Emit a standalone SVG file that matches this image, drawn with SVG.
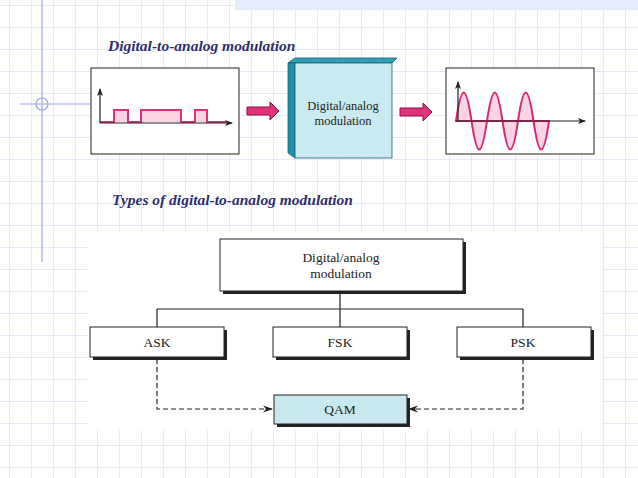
<svg xmlns="http://www.w3.org/2000/svg" width="638" height="478" viewBox="0 0 638 478">
<defs>
<pattern id="grid" width="22" height="22" patternUnits="userSpaceOnUse" x="10" y="6">
<path d="M22 0V22M0 22H22" fill="none" stroke="#cfd6f2" stroke-width="1"/>
</pattern>
<marker id="ah" markerWidth="8" markerHeight="8" refX="7" refY="4" orient="auto" markerUnits="userSpaceOnUse"><path d="M0 1L8 4L0 7L2 4Z" fill="#222"/></marker>
<marker id="da" markerWidth="10" markerHeight="8" refX="9" refY="4" orient="auto" markerUnits="userSpaceOnUse"><path d="M0 0.5L10 4L0 7.5L3 4Z" fill="#222"/></marker>
</defs>
<style>
.t{font-family:"Liberation Serif",serif;font-size:13.5px;fill:#222;text-anchor:middle}
.m{font-family:"Liberation Serif",serif;font-size:12.5px;fill:#222;text-anchor:middle}
.h{font-family:"Liberation Serif",serif;font-size:15.5px;font-weight:bold;font-style:italic;fill:#2e2e6e}
.b{fill:#fff;stroke:#222;stroke-width:1}
.sh{fill:#222}
.ln{fill:none;stroke:#222;stroke-width:1.2}
.dl{fill:none;stroke:#222;stroke-width:1.2;stroke-dasharray:5 3}
.pa{fill:#e0327a;stroke:#8a1040;stroke-width:1}
</style>
<rect width="638" height="478" fill="#fff"/>
<rect width="638" height="478" fill="url(#grid)"/>
<rect x="235" y="0" width="403" height="10" fill="#e4ecfb"/>
<path d="M42 0V262M20 104H90" stroke="#9aa8e0" stroke-width="1.2" fill="none"/>
<circle cx="42" cy="104" r="6" fill="none" stroke="#9aa8e0" stroke-width="1.2"/>
<rect x="88" y="232" width="514" height="198" fill="#fff"/>
<text class="h" x="108" y="51">Digital-to-analog modulation</text>
<text class="h" x="112" y="205">Types of digital-to-analog modulation</text>
<g id="digital-signal">
<rect class="b" x="91" y="68" width="148" height="86"/>
<path d="M100 122H114V110H128V122H141V110H181V122H195V110H207V122Z" fill="#fbd3e3"/>
<path d="M100 122H114V110H128V122H141V110H181V122H195V110H207V122H226" fill="none" stroke="#e0307a" stroke-width="2"/>
<path d="M100 123V89" class="ln" marker-end="url(#ah)"/>
<path d="M100 123H232" class="ln" marker-end="url(#ah)"/>
</g>
<g id="modulator">
<path d="M288 63L295 58H397L392 63Z" fill="#2ea0b8" stroke="#1b5e70" stroke-width="0.8"/>
<path d="M288 63L295 63V158L288 153Z" fill="#2090aa" stroke="#1b5e70" stroke-width="0.8"/>
<rect x="295" y="63" width="97" height="95" fill="#c8eaf0" stroke="#1b5e70" stroke-width="0.8"/>
<text class="m" x="343" y="110">Digital/analog</text>
<text class="m" x="343" y="125">modulation</text>
</g>
<g id="analog-signal">
<rect class="b" x="446" y="68" width="148" height="86"/>
<path d="M456 121C461.6 83 465.9 83 471.5 121C477.1 159 481.4 159 487 121C492.6 83 496.9 83 502.5 121C508.1 159 512.4 159 518 121C523.6 83 527.9 83 533.5 121C539.1 159 543.4 159 549 121Z" fill="#fbd3e3" stroke="#d62a78" stroke-width="2"/>
<path d="M458 121V82" class="ln" marker-end="url(#ah)"/>
<path d="M456 121H585" class="ln" marker-end="url(#ah)"/>
</g>
<g id="arrows">
<path class="pa" d="M247 107H270V102L279 111L270 120V115H247Z"/>
<path class="pa" d="M400 108H423V103L432 112L423 121V116H400Z"/>
</g>
<g id="connectors">
<path class="ln" d="M340 291V309M157 309H523M157 309V327M340 309V327M523 309V327"/>
<path class="dl" d="M157 359V409H272" marker-end="url(#da)"/>
<path class="dl" d="M523 359V409H409" marker-end="url(#da)"/>
</g>
<g id="root"><rect class="sh" x="223" y="242" width="243" height="52"/><rect class="b" x="220" y="239" width="243" height="52"/>
<text class="t" x="341" y="262">Digital/analog</text><text class="t" x="341" y="278">modulation</text></g>
<g id="ask"><rect class="sh" x="93" y="330" width="134" height="30"/><rect class="b" x="90" y="327" width="134" height="30"/><text class="t" x="157" y="347">ASK</text></g>
<g id="fsk"><rect class="sh" x="276" y="330" width="134" height="30"/><rect class="b" x="273" y="327" width="134" height="30"/><text class="t" x="340" y="347">FSK</text></g>
<g id="psk"><rect class="sh" x="460" y="330" width="134" height="30"/><rect class="b" x="457" y="327" width="134" height="30"/><text class="t" x="523" y="347">PSK</text></g>
<g id="qam"><rect class="sh" x="277" y="398" width="133" height="29"/><rect class="b" x="274" y="395" width="133" height="29" style="fill:#c8e8ef"/><text class="t" x="340" y="414">QAM</text></g>
</svg>
